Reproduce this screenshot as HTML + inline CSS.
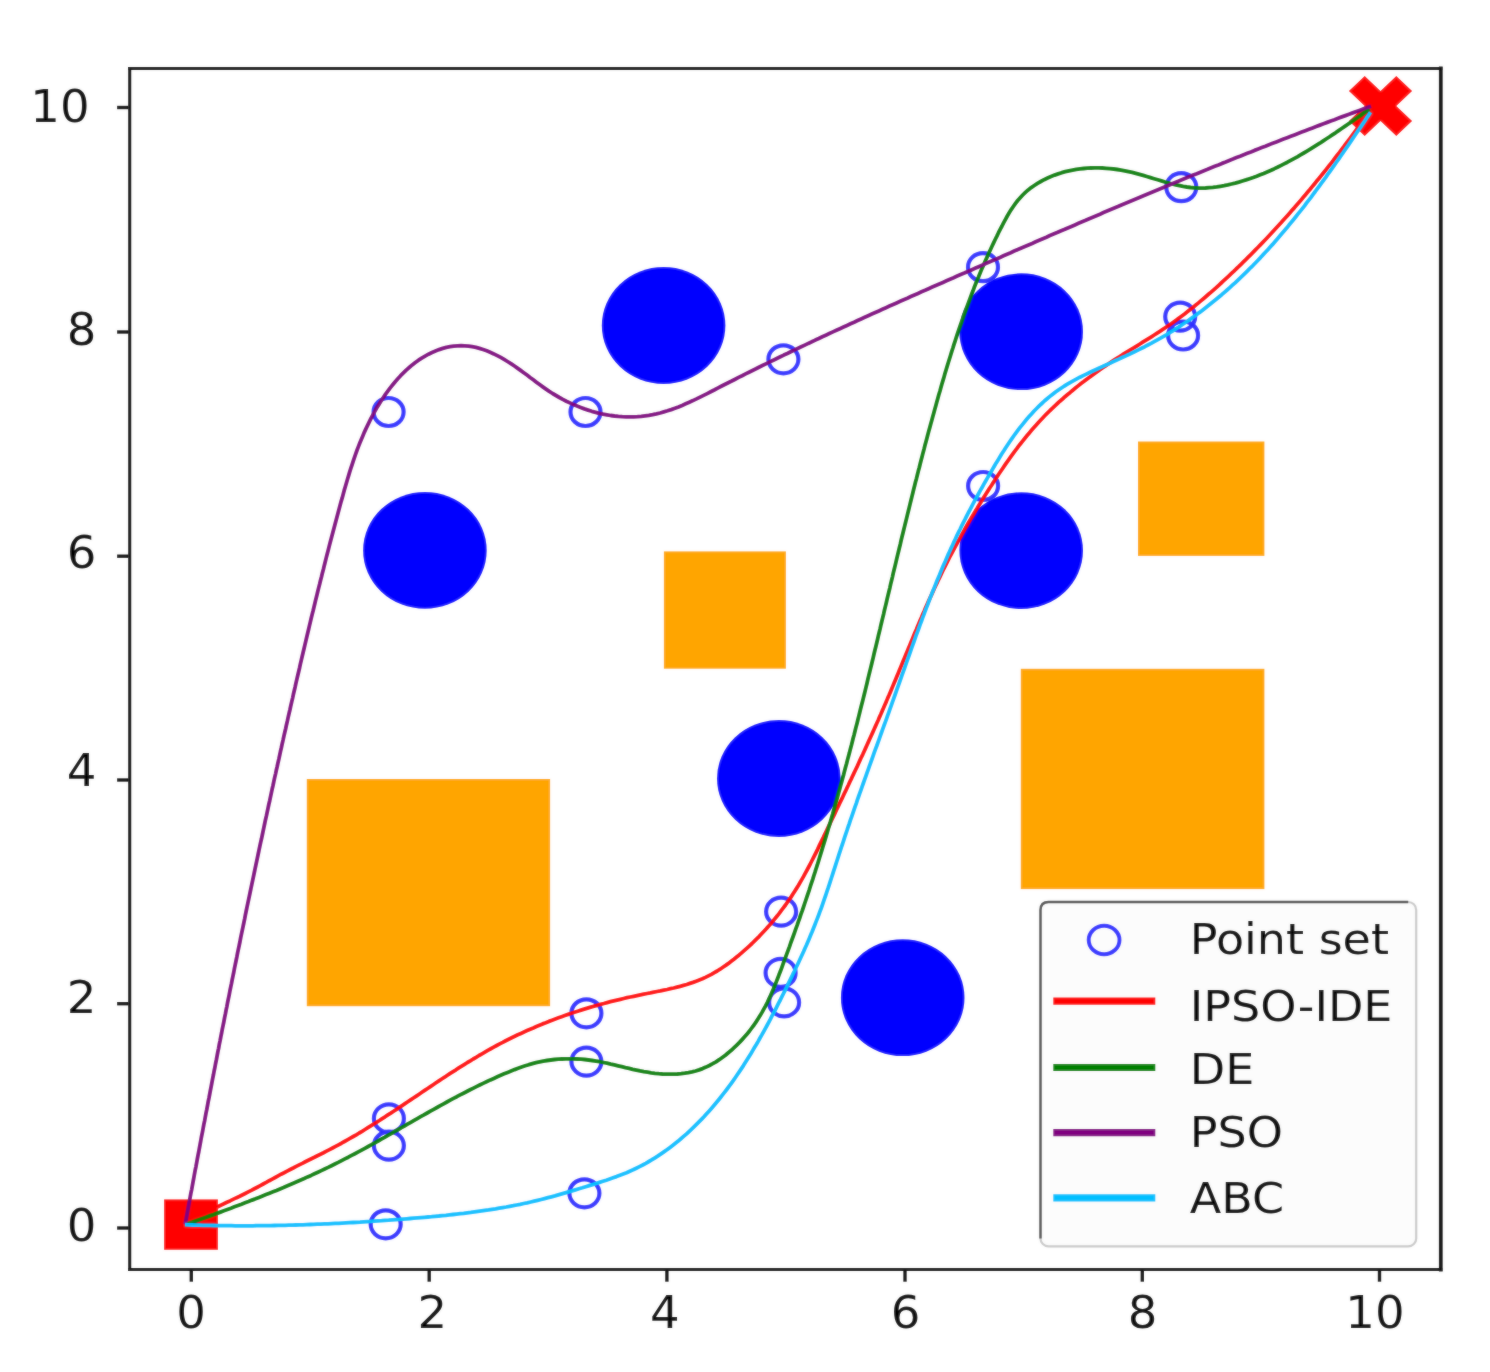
<!DOCTYPE html>
<html lang="en"><head><meta charset="utf-8"><title>Path planning comparison</title>
<style>html,body{margin:0;padding:0;background:#fff}body{width:1490px;height:1372px;overflow:hidden}svg{display:block}</style>
</head><body>
<svg width="1490" height="1372" viewBox="0 0 1490 1372">
<defs><filter id="soft" x="0" y="0" width="1490" height="1372" filterUnits="userSpaceOnUse"><feGaussianBlur stdDeviation="0.8"/></filter></defs>
<g id="chart">
<rect x="0" y="0" width="1490" height="1372" fill="#ffffff"/>
<g fill="#ffa500">
<rect x="306.8" y="779.0" width="243.3" height="227.2"/>
<rect x="663.9" y="551.4" width="122.0" height="117.3"/>
<rect x="1020.8" y="668.8" width="243.6" height="220.3"/>
<rect x="1138.0" y="441.5" width="126.4" height="114.4"/>
</g>
<g fill="#0000ff">
<ellipse cx="424.9" cy="550.4" rx="61.8" ry="58.4"/>
<ellipse cx="663.6" cy="325.5" rx="61.8" ry="58.4"/>
<ellipse cx="1021.2" cy="331.7" rx="61.8" ry="58.4"/>
<ellipse cx="1021.2" cy="550.6" rx="61.8" ry="58.4"/>
<ellipse cx="778.8" cy="778.5" rx="61.8" ry="58.4"/>
<ellipse cx="902.7" cy="997.7" rx="61.8" ry="58.4"/>
</g>
<rect x="164.1" y="1199.4" width="53.8" height="50.4" fill="#ff0000"/>
<polygon fill="#ff0000" points="1364.7,76.1 1380.5,91.1 1396.3,76.1 1412.1,91.1 1396.3,106.0 1412.1,121.0 1396.3,136.0 1380.5,121.0 1364.7,136.0 1348.9,121.0 1364.7,106.0 1348.9,91.1"/>
<g fill="none" stroke="#3030ff" stroke-width="4.2">
<ellipse cx="388.6" cy="412.0" rx="15.0" ry="14.0"/>
<ellipse cx="585.5" cy="412.0" rx="15.0" ry="14.0"/>
<ellipse cx="783.4" cy="359.3" rx="15.0" ry="14.0"/>
<ellipse cx="983.0" cy="267.2" rx="15.0" ry="14.0"/>
<ellipse cx="1181.3" cy="187.2" rx="15.0" ry="14.0"/>
<ellipse cx="983.1" cy="486.0" rx="15.0" ry="14.0"/>
<ellipse cx="1180.2" cy="316.6" rx="15.0" ry="14.0"/>
<ellipse cx="1183.1" cy="335.5" rx="15.0" ry="14.0"/>
<ellipse cx="388.9" cy="1118.4" rx="15.0" ry="14.0"/>
<ellipse cx="388.9" cy="1145.6" rx="15.0" ry="14.0"/>
<ellipse cx="385.7" cy="1224.3" rx="15.0" ry="14.0"/>
<ellipse cx="586.4" cy="1013.3" rx="15.0" ry="14.0"/>
<ellipse cx="586.4" cy="1061.6" rx="15.0" ry="14.0"/>
<ellipse cx="584.4" cy="1193.3" rx="15.0" ry="14.0"/>
<ellipse cx="781.1" cy="911.6" rx="15.0" ry="14.0"/>
<ellipse cx="780.6" cy="972.9" rx="15.0" ry="14.0"/>
<ellipse cx="784.1" cy="1002.4" rx="15.0" ry="14.0"/>
</g>
<g fill="none" stroke-width="3.8" stroke-linejoin="round" stroke-linecap="butt">
<polyline stroke="#ff0000" points="184.8,1224.0 187.7,1222.3 190.6,1220.6 193.6,1219.0 196.6,1217.3 199.6,1215.7 202.6,1214.2 205.6,1212.6 208.6,1211.1 211.6,1209.6 214.7,1208.2 217.7,1206.7 220.8,1205.2 223.9,1203.8 226.9,1202.3 230.0,1200.9 233.0,1199.4 236.1,1197.9 239.2,1196.5 242.2,1195.0 245.2,1193.5 248.3,1191.9 251.3,1190.4 254.3,1188.8 257.3,1187.2 260.3,1185.6 263.2,1184.0 266.2,1182.4 269.2,1180.7 272.2,1179.1 275.2,1177.5 278.1,1175.9 281.1,1174.2 284.1,1172.7 287.1,1171.1 290.2,1169.5 293.2,1168.0 296.2,1166.4 299.2,1164.9 302.3,1163.4 305.3,1161.8 308.3,1160.3 311.4,1158.8 314.4,1157.3 317.4,1155.7 320.5,1154.2 323.5,1152.7 326.5,1151.1 329.5,1149.6 332.6,1148.0 335.6,1146.4 338.5,1144.8 341.5,1143.2 344.5,1141.5 347.4,1139.9 350.4,1138.2 353.3,1136.5 356.3,1134.8 359.2,1133.0 362.1,1131.3 365.0,1129.5 367.9,1127.7 370.8,1125.9 373.6,1124.1 376.5,1122.3 379.4,1120.5 382.2,1118.6 385.1,1116.8 387.9,1114.9 390.8,1113.1 393.6,1111.2 396.5,1109.3 399.3,1107.4 402.1,1105.6 405.0,1103.7 407.8,1101.8 410.6,1099.9 413.4,1098.0 416.3,1096.1 419.1,1094.2 421.9,1092.3 424.7,1090.4 427.6,1088.5 430.4,1086.6 433.2,1084.7 436.0,1082.8 438.9,1080.9 441.7,1079.0 444.6,1077.2 447.4,1075.3 450.2,1073.4 453.1,1071.6 456.0,1069.8 458.8,1067.9 461.7,1066.1 464.6,1064.3 467.4,1062.5 470.3,1060.8 473.2,1059.0 476.1,1057.3 479.0,1055.5 482.0,1053.8 484.9,1052.1 487.8,1050.4 490.8,1048.8 493.7,1047.2 496.7,1045.5 499.7,1043.9 502.7,1042.4 505.7,1040.8 508.7,1039.3 511.7,1037.8 514.8,1036.3 517.8,1034.8 520.9,1033.4 524.0,1032.0 527.1,1030.6 530.2,1029.2 533.3,1027.9 536.4,1026.5 539.5,1025.2 542.6,1023.9 545.8,1022.7 548.9,1021.4 552.1,1020.2 555.3,1019.0 558.5,1017.8 561.6,1016.7 564.8,1015.5 568.1,1014.4 571.3,1013.3 574.5,1012.2 577.7,1011.2 581.0,1010.1 584.2,1009.1 587.5,1008.1 590.7,1007.2 594.0,1006.2 597.3,1005.3 600.5,1004.3 603.8,1003.5 607.1,1002.6 610.4,1001.7 613.7,1000.9 617.0,1000.1 620.4,999.3 623.7,998.5 627.0,997.7 630.3,997.0 633.7,996.3 637.0,995.6 640.4,994.9 643.7,994.2 647.1,993.5 650.4,992.9 653.8,992.2 657.1,991.5 660.4,990.9 663.8,990.2 667.1,989.5 670.4,988.7 673.7,988.0 677.0,987.1 680.2,986.3 683.5,985.4 686.7,984.5 689.9,983.4 693.0,982.4 696.2,981.2 699.3,980.0 702.4,978.8 705.4,977.4 708.4,975.9 711.4,974.4 714.3,972.7 717.2,971.0 720.1,969.2 722.9,967.3 725.7,965.4 728.5,963.4 731.2,961.3 733.9,959.2 736.6,957.0 739.2,954.9 741.9,952.6 744.4,950.4 747.0,948.1 749.5,945.8 752.0,943.5 754.4,941.1 756.9,938.7 759.3,936.3 761.6,933.8 764.0,931.3 766.3,928.8 768.5,926.2 770.8,923.7 773.0,921.1 775.1,918.4 777.3,915.8 779.4,913.1 781.4,910.4 783.5,907.7 785.5,905.0 787.4,902.2 789.4,899.4 791.3,896.6 793.1,893.8 794.9,890.9 796.7,888.1 798.5,885.2 800.2,882.3 801.9,879.4 803.6,876.4 805.2,873.4 806.8,870.5 808.4,867.5 810.0,864.5 811.5,861.5 813.1,858.4 814.6,855.4 816.1,852.3 817.6,849.3 819.0,846.2 820.5,843.2 822.0,840.1 823.5,837.1 824.9,834.0 826.4,831.0 827.9,827.9 829.4,824.8 830.8,821.8 832.3,818.7 833.8,815.7 835.2,812.6 836.7,809.5 838.2,806.5 839.6,803.4 841.1,800.3 842.6,797.3 844.0,794.2 845.5,791.2 846.9,788.1 848.4,785.0 849.8,781.9 851.3,778.9 852.7,775.8 854.2,772.7 855.6,769.7 857.1,766.6 858.5,763.5 859.9,760.4 861.3,757.3 862.8,754.3 864.2,751.2 865.6,748.1 867.0,745.0 868.4,741.9 869.8,738.8 871.2,735.7 872.6,732.6 874.0,729.5 875.4,726.4 876.8,723.3 878.2,720.2 879.5,717.1 880.9,714.0 882.2,710.9 883.6,707.8 884.9,704.7 886.3,701.6 887.6,698.4 889.0,695.3 890.3,692.2 891.6,689.1 892.9,685.9 894.2,682.8 895.5,679.7 896.8,676.5 898.1,673.4 899.4,670.3 900.7,667.1 902.0,664.0 903.3,660.8 904.6,657.7 905.9,654.5 907.2,651.4 908.5,648.3 909.8,645.1 911.1,642.0 912.4,638.9 913.7,635.7 915.0,632.6 916.4,629.5 917.7,626.3 919.0,623.2 920.3,620.1 921.7,617.0 923.0,613.8 924.4,610.7 925.7,607.6 927.1,604.5 928.5,601.4 929.9,598.3 931.3,595.2 932.7,592.1 934.1,589.0 935.5,586.0 937.0,582.9 938.4,579.8 939.9,576.8 941.4,573.7 942.8,570.7 944.4,567.6 945.9,564.6 947.4,561.6 949.0,558.5 950.5,555.5 952.1,552.5 953.7,549.5 955.3,546.5 956.9,543.5 958.5,540.6 960.2,537.6 961.8,534.6 963.5,531.6 965.1,528.7 966.8,525.7 968.5,522.8 970.2,519.9 971.9,516.9 973.7,514.0 975.4,511.1 977.2,508.2 978.9,505.3 980.7,502.4 982.5,499.5 984.3,496.6 986.1,493.7 987.9,490.9 989.7,488.0 991.6,485.2 993.4,482.3 995.3,479.5 997.1,476.6 999.0,473.8 1000.9,471.0 1002.8,468.2 1004.7,465.4 1006.6,462.6 1008.6,459.8 1010.5,457.1 1012.5,454.3 1014.5,451.6 1016.6,448.9 1018.6,446.2 1020.7,443.5 1022.8,440.8 1024.9,438.2 1027.1,435.5 1029.3,432.9 1031.5,430.3 1033.7,427.8 1036.0,425.2 1038.2,422.7 1040.5,420.2 1042.9,417.7 1045.2,415.3 1047.6,412.9 1050.0,410.5 1052.5,408.2 1054.9,405.8 1057.4,403.5 1059.9,401.2 1062.5,399.0 1065.0,396.7 1067.6,394.5 1070.2,392.4 1072.8,390.2 1075.4,388.1 1078.1,385.9 1080.7,383.8 1083.4,381.8 1086.1,379.7 1088.8,377.7 1091.6,375.7 1094.3,373.7 1097.1,371.7 1099.9,369.7 1102.7,367.8 1105.5,365.9 1108.3,364.0 1111.1,362.1 1114.0,360.2 1116.8,358.4 1119.7,356.6 1122.5,354.7 1125.4,352.9 1128.3,351.1 1131.2,349.3 1134.1,347.6 1137.0,345.8 1139.9,344.0 1142.7,342.2 1145.6,340.4 1148.5,338.6 1151.4,336.8 1154.2,335.0 1157.1,333.1 1159.9,331.3 1162.8,329.4 1165.6,327.5 1168.4,325.6 1171.2,323.7 1174.0,321.7 1176.7,319.8 1179.4,317.7 1182.2,315.7 1184.9,313.7 1187.6,311.6 1190.2,309.5 1192.9,307.4 1195.5,305.3 1198.2,303.1 1200.8,300.9 1203.4,298.7 1206.0,296.5 1208.5,294.3 1211.1,292.1 1213.7,289.8 1216.2,287.6 1218.7,285.3 1221.2,283.0 1223.7,280.7 1226.2,278.4 1228.7,276.1 1231.2,273.7 1233.7,271.4 1236.1,269.0 1238.6,266.7 1241.0,264.3 1243.4,261.9 1245.8,259.6 1248.2,257.2 1250.6,254.8 1253.0,252.4 1255.4,249.9 1257.8,247.5 1260.1,245.1 1262.5,242.6 1264.8,240.2 1267.2,237.7 1269.5,235.3 1271.8,232.8 1274.1,230.3 1276.4,227.8 1278.7,225.3 1281.0,222.8 1283.2,220.3 1285.5,217.8 1287.8,215.2 1290.0,212.7 1292.2,210.1 1294.5,207.6 1296.7,205.0 1298.9,202.4 1301.1,199.9 1303.3,197.3 1305.5,194.7 1307.7,192.1 1309.9,189.5 1312.0,186.9 1314.2,184.2 1316.3,181.6 1318.5,179.0 1320.6,176.3 1322.7,173.7 1324.9,171.1 1327.0,168.4 1329.1,165.7 1331.2,163.1 1333.3,160.4 1335.3,157.7 1337.4,155.0 1339.5,152.3 1341.5,149.6 1343.6,146.9 1345.6,144.2 1347.7,141.5 1349.7,138.8 1351.7,136.0 1353.7,133.3 1355.7,130.6 1357.7,127.8 1359.7,125.1 1361.7,122.3 1363.7,119.6 1365.7,116.8 1367.6,114.1 1369.6,111.3"/>
<polyline stroke="#008000" points="185.1,1224.8 188.6,1223.5 192.2,1222.3 195.7,1221.0 199.2,1219.7 202.7,1218.5 206.3,1217.2 209.8,1215.9 213.3,1214.7 216.8,1213.4 220.4,1212.1 223.9,1210.8 227.4,1209.5 230.9,1208.2 234.4,1206.8 238.0,1205.5 241.5,1204.2 245.0,1202.8 248.5,1201.5 252.0,1200.1 255.5,1198.8 259.0,1197.4 262.5,1196.0 266.0,1194.6 269.5,1193.2 273.0,1191.8 276.5,1190.4 280.0,1188.9 283.5,1187.5 286.9,1186.0 290.4,1184.5 293.9,1183.0 297.3,1181.5 300.8,1180.0 304.2,1178.5 307.6,1176.9 311.1,1175.4 314.5,1173.8 317.9,1172.2 321.3,1170.6 324.7,1169.0 328.1,1167.4 331.5,1165.7 334.9,1164.0 338.2,1162.4 341.6,1160.6 344.9,1158.9 348.3,1157.2 351.6,1155.4 354.9,1153.7 358.3,1151.9 361.6,1150.1 364.9,1148.3 368.2,1146.5 371.5,1144.7 374.8,1142.8 378.1,1141.0 381.3,1139.1 384.6,1137.3 387.9,1135.4 391.2,1133.6 394.5,1131.7 397.7,1129.8 401.0,1127.9 404.3,1126.1 407.5,1124.2 410.8,1122.3 414.1,1120.4 417.3,1118.6 420.6,1116.7 423.9,1114.9 427.2,1113.0 430.4,1111.1 433.7,1109.3 437.0,1107.5 440.3,1105.6 443.6,1103.8 446.9,1102.0 450.2,1100.2 453.5,1098.4 456.8,1096.7 460.1,1094.9 463.5,1093.2 466.8,1091.5 470.1,1089.8 473.5,1088.1 476.9,1086.4 480.2,1084.7 483.6,1083.1 487.0,1081.5 490.4,1079.9 493.8,1078.4 497.3,1076.8 500.7,1075.3 504.1,1073.8 507.6,1072.4 511.1,1071.0 514.6,1069.6 518.1,1068.3 521.6,1067.0 525.2,1065.8 528.8,1064.7 532.4,1063.7 536.0,1062.7 539.6,1061.9 543.3,1061.1 547.0,1060.5 550.8,1060.0 554.5,1059.5 558.3,1059.2 562.0,1059.0 565.8,1058.8 569.6,1058.8 573.4,1058.8 577.2,1059.0 581.0,1059.2 584.7,1059.5 588.5,1060.0 592.2,1060.5 596.0,1061.1 599.7,1061.7 603.4,1062.5 607.0,1063.2 610.7,1064.1 614.4,1064.9 618.1,1065.8 621.7,1066.7 625.4,1067.6 629.1,1068.4 632.7,1069.3 636.4,1070.1 640.1,1070.9 643.8,1071.6 647.5,1072.2 651.2,1072.8 654.9,1073.3 658.7,1073.7 662.4,1074.0 666.2,1074.2 669.9,1074.2 673.6,1074.2 677.4,1074.0 681.1,1073.7 684.8,1073.2 688.4,1072.6 692.0,1071.9 695.6,1071.0 699.1,1069.9 702.6,1068.6 706.0,1067.1 709.4,1065.5 712.7,1063.7 716.0,1061.8 719.2,1059.7 722.3,1057.5 725.4,1055.2 728.3,1052.7 731.3,1050.3 734.1,1047.7 736.8,1045.1 739.5,1042.4 742.1,1039.6 744.6,1036.8 747.1,1033.9 749.5,1031.0 751.7,1028.0 754.0,1025.0 756.1,1021.9 758.1,1018.8 760.1,1015.6 762.0,1012.4 763.8,1009.1 765.6,1005.8 767.3,1002.5 768.9,999.1 770.5,995.7 772.0,992.3 773.5,988.8 774.9,985.3 776.3,981.9 777.7,978.3 779.0,974.8 780.4,971.3 781.7,967.8 783.0,964.2 784.3,960.7 785.6,957.2 786.9,953.6 788.2,950.1 789.5,946.6 790.7,943.0 792.0,939.5 793.3,936.0 794.6,932.4 795.8,928.9 797.1,925.4 798.3,921.8 799.6,918.3 800.8,914.7 802.1,911.2 803.3,907.6 804.5,904.0 805.7,900.5 806.9,896.9 808.1,893.4 809.3,889.8 810.4,886.2 811.6,882.6 812.8,879.1 813.9,875.5 815.1,871.9 816.2,868.3 817.4,864.7 818.5,861.1 819.6,857.5 820.7,853.9 821.8,850.4 822.9,846.8 824.0,843.2 825.1,839.6 826.2,836.0 827.3,832.3 828.3,828.7 829.4,825.1 830.5,821.5 831.5,817.9 832.6,814.3 833.6,810.7 834.6,807.1 835.6,803.4 836.7,799.8 837.7,796.2 838.7,792.6 839.7,788.9 840.7,785.3 841.7,781.7 842.7,778.0 843.7,774.4 844.6,770.8 845.6,767.1 846.6,763.5 847.5,759.9 848.5,756.2 849.5,752.6 850.4,748.9 851.4,745.3 852.3,741.7 853.2,738.0 854.2,734.4 855.1,730.7 856.0,727.1 857.0,723.4 857.9,719.8 858.8,716.1 859.7,712.5 860.6,708.8 861.5,705.2 862.5,701.5 863.4,697.9 864.3,694.2 865.2,690.6 866.1,686.9 867.0,683.2 867.8,679.6 868.7,675.9 869.6,672.3 870.5,668.6 871.4,665.0 872.3,661.3 873.2,657.6 874.0,654.0 874.9,650.3 875.8,646.7 876.7,643.0 877.6,639.3 878.4,635.7 879.3,632.0 880.2,628.4 881.0,624.7 881.9,621.0 882.8,617.4 883.7,613.7 884.5,610.0 885.4,606.4 886.3,602.7 887.1,599.1 888.0,595.4 888.9,591.7 889.8,588.1 890.6,584.4 891.5,580.8 892.4,577.1 893.2,573.4 894.1,569.8 895.0,566.1 895.9,562.4 896.7,558.8 897.6,555.1 898.5,551.5 899.4,547.8 900.3,544.2 901.1,540.5 902.0,536.8 902.9,533.2 903.8,529.5 904.7,525.9 905.6,522.2 906.5,518.6 907.4,514.9 908.3,511.3 909.2,507.6 910.1,503.9 911.0,500.3 911.9,496.6 912.8,493.0 913.7,489.3 914.6,485.7 915.5,482.0 916.5,478.4 917.4,474.8 918.3,471.1 919.3,467.5 920.2,463.8 921.1,460.2 922.1,456.5 923.0,452.9 924.0,449.3 924.9,445.6 925.9,442.0 926.9,438.3 927.8,434.7 928.8,431.1 929.8,427.4 930.8,423.8 931.8,420.2 932.8,416.6 933.8,412.9 934.8,409.3 935.8,405.7 936.8,402.1 937.8,398.4 938.8,394.8 939.9,391.2 940.9,387.6 941.9,384.0 943.0,380.4 944.1,376.7 945.1,373.1 946.2,369.5 947.3,365.9 948.4,362.3 949.5,358.7 950.6,355.2 951.7,351.6 952.9,348.0 954.0,344.4 955.2,340.8 956.3,337.3 957.5,333.7 958.7,330.1 959.9,326.6 961.2,323.0 962.4,319.5 963.6,315.9 964.9,312.4 966.2,308.8 967.5,305.3 968.8,301.8 970.1,298.3 971.4,294.8 972.8,291.3 974.1,287.8 975.5,284.3 976.9,280.8 978.4,277.3 979.8,273.8 981.2,270.4 982.7,266.9 984.2,263.4 985.7,260.0 987.3,256.6 988.8,253.1 990.4,249.7 992.0,246.3 993.6,242.9 995.2,239.5 996.9,236.1 998.5,232.7 1000.2,229.3 1002.0,226.0 1003.7,222.6 1005.5,219.3 1007.3,216.0 1009.2,212.8 1011.2,209.6 1013.3,206.5 1015.5,203.4 1017.7,200.5 1020.2,197.7 1022.7,195.0 1025.4,192.4 1028.2,189.9 1031.2,187.6 1034.3,185.5 1037.5,183.4 1040.8,181.5 1044.1,179.7 1047.6,178.0 1051.0,176.5 1054.6,175.1 1058.1,173.9 1061.7,172.7 1065.3,171.7 1068.9,170.8 1072.6,170.1 1076.3,169.4 1080.0,168.9 1083.7,168.5 1087.4,168.2 1091.1,168.0 1094.8,167.9 1098.6,167.9 1102.3,168.0 1106.1,168.3 1109.8,168.6 1113.6,169.0 1117.3,169.5 1121.0,170.1 1124.8,170.8 1128.5,171.6 1132.2,172.4 1135.8,173.4 1139.5,174.4 1143.2,175.4 1146.8,176.5 1150.5,177.6 1154.1,178.7 1157.7,179.8 1161.4,180.9 1165.0,182.0 1168.6,183.0 1172.3,184.0 1175.9,184.9 1179.6,185.7 1183.2,186.4 1186.9,187.0 1190.6,187.5 1194.3,187.8 1198.0,188.0 1201.7,188.1 1205.5,188.0 1209.2,187.7 1212.9,187.4 1216.7,186.9 1220.4,186.3 1224.1,185.7 1227.8,184.9 1231.5,184.0 1235.2,183.1 1238.8,182.1 1242.4,181.0 1246.0,179.9 1249.6,178.7 1253.2,177.5 1256.7,176.2 1260.2,174.8 1263.7,173.4 1267.1,171.9 1270.6,170.4 1274.0,168.9 1277.4,167.3 1280.7,165.6 1284.1,163.9 1287.4,162.2 1290.7,160.4 1294.0,158.6 1297.3,156.8 1300.5,154.9 1303.8,153.0 1307.0,151.1 1310.2,149.2 1313.4,147.2 1316.6,145.2 1319.8,143.2 1322.9,141.1 1326.1,139.0 1329.2,137.0 1332.3,134.9 1335.5,132.8 1338.6,130.6 1341.7,128.5 1344.8,126.4 1347.9,124.2 1351.0,122.1 1354.1,119.9 1357.2,117.8 1360.3,115.6 1363.3,113.4 1366.4,111.3 1369.5,109.1"/>
<polyline stroke="#800080" points="185.2,1224.3 185.9,1220.5 186.6,1216.6 187.3,1212.8 188.0,1209.0 188.7,1205.1 189.4,1201.3 190.1,1197.5 190.8,1193.6 191.6,1189.8 192.3,1186.0 193.0,1182.1 193.7,1178.3 194.4,1174.5 195.1,1170.6 195.9,1166.8 196.6,1163.0 197.3,1159.1 198.0,1155.3 198.8,1151.5 199.5,1147.6 200.2,1143.8 200.9,1140.0 201.6,1136.2 202.4,1132.3 203.1,1128.5 203.8,1124.7 204.6,1120.9 205.3,1117.0 206.0,1113.2 206.8,1109.4 207.5,1105.6 208.2,1101.7 209.0,1097.9 209.7,1094.1 210.4,1090.3 211.2,1086.4 211.9,1082.6 212.6,1078.8 213.4,1075.0 214.1,1071.2 214.9,1067.3 215.6,1063.5 216.4,1059.7 217.1,1055.9 217.8,1052.1 218.6,1048.3 219.3,1044.4 220.1,1040.6 220.8,1036.8 221.6,1033.0 222.3,1029.2 223.1,1025.4 223.9,1021.5 224.6,1017.7 225.4,1013.9 226.1,1010.1 226.9,1006.3 227.6,1002.5 228.4,998.7 229.2,994.8 229.9,991.0 230.7,987.2 231.5,983.4 232.2,979.6 233.0,975.8 233.8,972.0 234.5,968.2 235.3,964.4 236.1,960.5 236.9,956.7 237.6,952.9 238.4,949.1 239.2,945.3 240.0,941.5 240.7,937.7 241.5,933.9 242.3,930.1 243.1,926.3 243.9,922.5 244.7,918.7 245.4,914.8 246.2,911.0 247.0,907.2 247.8,903.4 248.6,899.6 249.4,895.8 250.2,892.0 251.0,888.2 251.8,884.4 252.6,880.6 253.4,876.8 254.2,873.0 255.0,869.2 255.8,865.4 256.6,861.6 257.4,857.8 258.2,854.0 259.0,850.2 259.8,846.4 260.6,842.6 261.5,838.8 262.3,835.0 263.1,831.1 263.9,827.3 264.7,823.5 265.5,819.7 266.4,815.9 267.2,812.1 268.0,808.3 268.8,804.5 269.7,800.7 270.5,796.9 271.3,793.1 272.1,789.3 273.0,785.5 273.8,781.7 274.6,777.9 275.5,774.1 276.3,770.3 277.2,766.5 278.0,762.7 278.9,758.9 279.7,755.1 280.5,751.3 281.4,747.5 282.2,743.7 283.1,739.9 283.9,736.1 284.8,732.3 285.7,728.5 286.5,724.7 287.4,720.9 288.2,717.1 289.1,713.3 290.0,709.5 290.8,705.7 291.7,701.9 292.6,698.1 293.4,694.3 294.3,690.5 295.2,686.7 296.0,682.9 296.9,679.1 297.8,675.3 298.7,671.5 299.6,667.7 300.4,663.9 301.3,660.1 302.2,656.3 303.1,652.5 304.0,648.7 304.9,644.9 305.8,641.1 306.7,637.3 307.6,633.5 308.5,629.7 309.4,625.9 310.3,622.1 311.2,618.3 312.1,614.6 313.1,610.8 314.0,607.0 314.9,603.2 315.8,599.4 316.8,595.6 317.7,591.8 318.6,588.1 319.6,584.3 320.5,580.5 321.5,576.7 322.4,572.9 323.4,569.2 324.3,565.4 325.3,561.6 326.2,557.9 327.2,554.1 328.2,550.3 329.1,546.6 330.1,542.8 331.1,539.1 332.1,535.3 333.1,531.5 334.1,527.8 335.1,524.0 336.1,520.3 337.1,516.6 338.1,512.8 339.1,509.1 340.1,505.3 341.1,501.6 342.2,497.9 343.2,494.2 344.2,490.4 345.3,486.7 346.4,483.0 347.5,479.3 348.6,475.6 349.7,471.9 350.9,468.2 352.1,464.6 353.3,460.9 354.5,457.3 355.8,453.6 357.1,450.0 358.5,446.4 359.9,442.8 361.4,439.2 362.9,435.7 364.4,432.1 366.0,428.6 367.7,425.1 369.4,421.6 371.1,418.1 373.0,414.7 374.9,411.2 376.8,407.8 378.9,404.4 381.0,401.1 383.2,397.7 385.4,394.4 387.8,391.2 390.2,387.9 392.7,384.8 395.2,381.7 397.8,378.7 400.6,375.7 403.4,372.9 406.2,370.1 409.2,367.5 412.2,364.9 415.3,362.5 418.5,360.2 421.7,358.1 425.1,356.1 428.5,354.2 432.0,352.5 435.5,351.0 439.1,349.6 442.7,348.4 446.4,347.4 450.0,346.7 453.7,346.1 457.4,345.8 461.1,345.6 464.8,345.8 468.5,346.1 472.2,346.7 475.9,347.4 479.5,348.4 483.1,349.5 486.7,350.8 490.2,352.3 493.8,353.9 497.3,355.6 500.7,357.4 504.1,359.4 507.5,361.5 510.9,363.6 514.1,365.8 517.4,368.1 520.6,370.4 523.8,372.7 527.0,375.1 530.1,377.5 533.3,379.8 536.4,382.2 539.6,384.6 542.8,386.9 546.0,389.1 549.3,391.4 552.6,393.5 556.0,395.5 559.4,397.5 562.8,399.4 566.3,401.2 569.9,402.9 573.5,404.6 577.1,406.1 580.7,407.5 584.4,408.9 588.1,410.1 591.8,411.3 595.6,412.3 599.3,413.3 603.1,414.1 606.9,414.8 610.7,415.5 614.6,416.0 618.4,416.4 622.2,416.7 626.0,416.8 629.9,416.9 633.7,416.8 637.5,416.7 641.3,416.4 645.1,415.9 648.9,415.4 652.7,414.7 656.4,413.9 660.1,413.0 663.8,411.9 667.5,410.8 671.2,409.6 674.9,408.3 678.5,406.9 682.1,405.4 685.7,403.8 689.3,402.2 692.9,400.6 696.5,398.9 700.1,397.1 703.6,395.4 707.2,393.6 710.7,391.8 714.2,390.0 717.7,388.1 721.2,386.3 724.7,384.5 728.2,382.7 731.7,381.0 735.2,379.2 738.6,377.4 742.1,375.7 745.6,373.9 749.0,372.2 752.5,370.5 756.0,368.8 759.4,367.0 762.9,365.3 766.4,363.6 769.8,361.9 773.3,360.2 776.8,358.5 780.3,356.8 783.8,355.1 787.3,353.5 790.8,351.8 794.2,350.1 797.7,348.4 801.2,346.8 804.8,345.1 808.3,343.4 811.8,341.8 815.3,340.1 818.8,338.5 822.3,336.8 825.8,335.2 829.3,333.6 832.9,331.9 836.4,330.3 839.9,328.7 843.5,327.0 847.0,325.4 850.5,323.8 854.1,322.2 857.6,320.5 861.1,318.9 864.7,317.3 868.2,315.7 871.8,314.1 875.3,312.5 878.9,310.9 882.4,309.3 886.0,307.7 889.5,306.1 893.1,304.5 896.6,302.9 900.2,301.3 903.7,299.7 907.3,298.2 910.8,296.6 914.4,295.0 918.0,293.4 921.5,291.8 925.1,290.3 928.6,288.7 932.2,287.1 935.8,285.5 939.3,284.0 942.9,282.4 946.5,280.8 950.0,279.2 953.6,277.7 957.2,276.1 960.7,274.5 964.3,273.0 967.9,271.4 971.4,269.9 975.0,268.3 978.6,266.7 982.1,265.2 985.7,263.6 989.3,262.0 992.8,260.5 996.4,258.9 1000.0,257.4 1003.5,255.8 1007.1,254.2 1010.7,252.7 1014.2,251.1 1017.8,249.6 1021.4,248.0 1024.9,246.5 1028.5,244.9 1032.1,243.4 1035.7,241.8 1039.2,240.3 1042.8,238.7 1046.4,237.2 1049.9,235.6 1053.5,234.1 1057.1,232.6 1060.6,231.0 1064.2,229.5 1067.8,227.9 1071.4,226.4 1074.9,224.9 1078.5,223.3 1082.1,221.8 1085.7,220.3 1089.2,218.7 1092.8,217.2 1096.4,215.7 1100.0,214.2 1103.5,212.6 1107.1,211.1 1110.7,209.6 1114.3,208.1 1117.9,206.6 1121.4,205.0 1125.0,203.5 1128.6,202.0 1132.2,200.5 1135.8,199.0 1139.4,197.5 1142.9,196.0 1146.5,194.5 1150.1,193.0 1153.7,191.5 1157.3,190.0 1160.9,188.5 1164.5,187.0 1168.1,185.5 1171.7,184.0 1175.2,182.5 1178.8,181.1 1182.4,179.6 1186.0,178.1 1189.6,176.6 1193.2,175.1 1196.8,173.7 1200.4,172.2 1204.0,170.7 1207.6,169.3 1211.2,167.8 1214.8,166.3 1218.4,164.9 1222.0,163.4 1225.7,162.0 1229.3,160.5 1232.9,159.1 1236.5,157.6 1240.1,156.2 1243.7,154.7 1247.3,153.3 1250.9,151.9 1254.5,150.4 1258.2,149.0 1261.8,147.6 1265.4,146.2 1269.0,144.7 1272.7,143.3 1276.3,141.9 1279.9,140.5 1283.5,139.1 1287.2,137.7 1290.8,136.3 1294.4,134.9 1298.1,133.5 1301.7,132.1 1305.3,130.7 1309.0,129.3 1312.6,127.9 1316.2,126.5 1319.9,125.1 1323.5,123.8 1327.2,122.4 1330.8,121.0 1334.5,119.7 1338.1,118.3 1341.8,116.9 1345.4,115.6 1349.1,114.2 1352.7,112.9 1356.4,111.5 1360.0,110.2 1363.7,108.8 1367.4,107.5 1371.0,106.2"/>
<polyline stroke="#00bfff" points="184.9,1224.7 188.5,1224.9 192.1,1225.0 195.6,1225.1 199.2,1225.2 202.8,1225.3 206.4,1225.4 210.0,1225.4 213.6,1225.5 217.2,1225.6 220.7,1225.6 224.3,1225.7 227.9,1225.7 231.5,1225.7 235.1,1225.8 238.6,1225.8 242.2,1225.8 245.8,1225.8 249.4,1225.8 253.0,1225.8 256.5,1225.7 260.1,1225.7 263.7,1225.7 267.3,1225.6 270.8,1225.6 274.4,1225.5 278.0,1225.4 281.6,1225.4 285.1,1225.3 288.7,1225.2 292.3,1225.1 295.8,1225.0 299.4,1224.9 303.0,1224.8 306.6,1224.6 310.1,1224.5 313.7,1224.4 317.3,1224.2 320.8,1224.1 324.4,1223.9 328.0,1223.8 331.6,1223.6 335.1,1223.4 338.7,1223.3 342.3,1223.1 345.8,1222.9 349.4,1222.7 353.0,1222.5 356.6,1222.3 360.1,1222.1 363.7,1221.8 367.3,1221.6 370.8,1221.4 374.4,1221.1 378.0,1220.9 381.6,1220.7 385.1,1220.4 388.7,1220.2 392.3,1219.9 395.9,1219.6 399.4,1219.4 403.0,1219.1 406.6,1218.8 410.2,1218.5 413.7,1218.2 417.3,1217.9 420.9,1217.6 424.5,1217.3 428.0,1217.0 431.6,1216.7 435.2,1216.3 438.8,1216.0 442.3,1215.6 445.9,1215.3 449.5,1214.9 453.0,1214.5 456.6,1214.1 460.2,1213.7 463.7,1213.3 467.3,1212.8 470.8,1212.4 474.4,1211.9 478.0,1211.4 481.5,1210.9 485.0,1210.4 488.6,1209.9 492.1,1209.3 495.6,1208.8 499.2,1208.2 502.7,1207.6 506.2,1207.0 509.7,1206.3 513.2,1205.7 516.7,1205.0 520.2,1204.3 523.7,1203.5 527.2,1202.8 530.7,1202.0 534.2,1201.2 537.6,1200.4 541.1,1199.5 544.5,1198.6 548.0,1197.7 551.4,1196.8 554.9,1195.9 558.3,1194.9 561.7,1193.9 565.2,1192.9 568.6,1191.9 572.0,1190.9 575.4,1189.9 578.9,1188.8 582.3,1187.8 585.7,1186.7 589.2,1185.6 592.6,1184.6 596.0,1183.5 599.5,1182.4 602.9,1181.3 606.3,1180.2 609.7,1179.0 613.1,1177.8 616.5,1176.6 619.9,1175.3 623.2,1174.0 626.6,1172.7 629.8,1171.2 633.1,1169.8 636.3,1168.2 639.5,1166.6 642.7,1165.0 645.8,1163.3 648.9,1161.5 652.0,1159.7 655.0,1157.8 658.0,1155.9 661.0,1153.9 663.9,1151.9 666.9,1149.8 669.7,1147.7 672.6,1145.5 675.4,1143.3 678.2,1141.1 680.9,1138.8 683.6,1136.4 686.3,1134.1 689.0,1131.6 691.6,1129.2 694.2,1126.7 696.7,1124.2 699.2,1121.7 701.7,1119.1 704.2,1116.5 706.6,1113.8 709.0,1111.2 711.4,1108.5 713.7,1105.8 716.0,1103.1 718.3,1100.3 720.5,1097.5 722.7,1094.7 724.9,1091.9 727.1,1089.0 729.2,1086.2 731.3,1083.3 733.4,1080.4 735.4,1077.5 737.4,1074.5 739.4,1071.6 741.4,1068.6 743.4,1065.6 745.3,1062.6 747.2,1059.6 749.1,1056.5 751.0,1053.5 752.8,1050.4 754.6,1047.3 756.5,1044.2 758.3,1041.1 760.0,1038.0 761.8,1034.9 763.5,1031.8 765.3,1028.6 767.0,1025.5 768.7,1022.3 770.4,1019.1 772.0,1015.9 773.7,1012.8 775.4,1009.6 777.0,1006.4 778.6,1003.2 780.3,1000.0 781.9,996.7 783.5,993.5 785.1,990.3 786.7,987.1 788.2,983.9 789.8,980.7 791.4,977.4 792.9,974.2 794.5,971.0 796.0,967.7 797.6,964.5 799.1,961.3 800.6,958.0 802.1,954.8 803.6,951.5 805.0,948.2 806.5,945.0 807.9,941.7 809.3,938.4 810.7,935.1 812.1,931.8 813.4,928.5 814.7,925.2 816.0,921.9 817.3,918.6 818.6,915.2 819.8,911.9 821.1,908.5 822.3,905.1 823.4,901.8 824.6,898.4 825.8,895.0 826.9,891.6 828.1,888.2 829.2,884.8 830.3,881.4 831.4,878.0 832.5,874.6 833.6,871.2 834.7,867.8 835.8,864.4 836.9,861.0 838.0,857.6 839.1,854.2 840.2,850.8 841.3,847.4 842.5,844.0 843.6,840.6 844.7,837.2 845.8,833.8 847.0,830.4 848.1,827.0 849.3,823.6 850.4,820.2 851.6,816.8 852.8,813.4 853.9,810.1 855.1,806.7 856.3,803.3 857.4,799.9 858.6,796.5 859.8,793.2 861.0,789.8 862.2,786.4 863.4,783.0 864.6,779.7 865.8,776.3 867.0,772.9 868.2,769.6 869.4,766.2 870.6,762.8 871.8,759.5 873.0,756.1 874.2,752.7 875.4,749.4 876.7,746.0 877.9,742.6 879.1,739.3 880.3,735.9 881.5,732.5 882.7,729.2 883.9,725.8 885.2,722.4 886.4,719.1 887.6,715.7 888.8,712.3 890.0,708.9 891.2,705.6 892.4,702.2 893.6,698.8 894.8,695.5 896.0,692.1 897.2,688.7 898.4,685.3 899.6,682.0 900.8,678.6 902.0,675.2 903.2,671.8 904.4,668.5 905.6,665.1 906.8,661.7 908.0,658.3 909.2,655.0 910.4,651.6 911.6,648.2 912.8,644.9 914.0,641.5 915.2,638.1 916.4,634.7 917.7,631.4 918.9,628.0 920.1,624.7 921.4,621.3 922.6,617.9 923.9,614.6 925.1,611.2 926.4,607.9 927.7,604.6 928.9,601.2 930.2,597.9 931.5,594.6 932.8,591.2 934.2,587.9 935.5,584.6 936.8,581.3 938.2,578.0 939.6,574.7 940.9,571.4 942.3,568.1 943.7,564.8 945.2,561.5 946.6,558.2 948.0,554.9 949.5,551.7 951.0,548.4 952.5,545.2 954.0,541.9 955.5,538.7 957.0,535.4 958.6,532.2 960.2,529.0 961.7,525.8 963.3,522.6 965.0,519.4 966.6,516.2 968.2,513.0 969.9,509.8 971.6,506.6 973.2,503.5 974.9,500.3 976.7,497.2 978.4,494.0 980.1,490.9 981.9,487.8 983.6,484.6 985.4,481.5 987.2,478.4 989.0,475.3 990.8,472.2 992.6,469.1 994.4,466.0 996.2,462.9 998.1,459.9 1000.0,456.8 1001.8,453.8 1003.8,450.8 1005.7,447.8 1007.7,444.8 1009.7,441.8 1011.7,438.9 1013.7,436.0 1015.8,433.1 1018.0,430.2 1020.1,427.4 1022.4,424.6 1024.6,421.8 1026.9,419.0 1029.3,416.3 1031.7,413.7 1034.1,411.0 1036.6,408.5 1039.2,405.9 1041.8,403.5 1044.4,401.0 1047.1,398.7 1049.9,396.4 1052.7,394.2 1055.5,392.0 1058.4,390.0 1061.4,388.0 1064.4,386.0 1067.4,384.2 1070.5,382.3 1073.6,380.6 1076.8,378.9 1079.9,377.2 1083.1,375.6 1086.3,374.1 1089.6,372.5 1092.8,371.0 1096.1,369.5 1099.3,368.0 1102.6,366.6 1105.9,365.1 1109.1,363.6 1112.4,362.1 1115.7,360.6 1118.9,359.1 1122.2,357.6 1125.4,356.1 1128.7,354.6 1131.9,353.0 1135.1,351.5 1138.4,349.9 1141.6,348.3 1144.8,346.7 1147.9,345.0 1151.1,343.4 1154.2,341.7 1157.4,339.9 1160.5,338.2 1163.6,336.4 1166.7,334.6 1169.7,332.7 1172.8,330.8 1175.8,328.9 1178.8,327.0 1181.8,325.0 1184.7,323.0 1187.7,321.0 1190.6,318.9 1193.5,316.9 1196.4,314.8 1199.3,312.6 1202.2,310.5 1205.0,308.3 1207.8,306.1 1210.6,303.8 1213.4,301.6 1216.2,299.3 1218.9,297.0 1221.7,294.7 1224.4,292.3 1227.1,290.0 1229.8,287.6 1232.4,285.2 1235.1,282.8 1237.7,280.3 1240.3,277.9 1242.9,275.4 1245.5,272.9 1248.0,270.4 1250.5,267.8 1253.1,265.3 1255.6,262.7 1258.0,260.2 1260.5,257.6 1262.9,254.9 1265.4,252.3 1267.8,249.7 1270.2,247.0 1272.6,244.4 1274.9,241.7 1277.3,239.0 1279.6,236.3 1281.9,233.6 1284.3,230.8 1286.6,228.1 1288.8,225.3 1291.1,222.6 1293.4,219.8 1295.6,217.0 1297.8,214.2 1300.1,211.4 1302.3,208.6 1304.5,205.8 1306.6,202.9 1308.8,200.1 1311.0,197.3 1313.1,194.4 1315.3,191.5 1317.4,188.6 1319.5,185.8 1321.6,182.9 1323.8,180.0 1325.9,177.1 1327.9,174.2 1330.0,171.3 1332.1,168.3 1334.2,165.4 1336.2,162.5 1338.3,159.6 1340.3,156.6 1342.4,153.7 1344.4,150.7 1346.4,147.8 1348.5,144.8 1350.5,141.9 1352.5,138.9 1354.5,136.0 1356.5,133.0 1358.5,130.1 1360.6,127.1 1362.6,124.2 1364.6,121.2 1366.5,118.2 1368.5,115.3 1370.5,112.3"/>
</g>
<g stroke="#000" stroke-linecap="square">
<line x1="129.7" y1="68.5" x2="129.7" y2="1269.5" stroke-width="3.1"/>
<line x1="129.7" y1="68.5" x2="1440.8" y2="68.5" stroke-width="3.1"/>
<line x1="1440.8" y1="68.5" x2="1440.8" y2="1269.5" stroke-width="3.8"/>
<line x1="129.7" y1="1269.5" x2="1440.8" y2="1269.5" stroke-width="3.1"/>
</g>
<g stroke="#000" stroke-width="3.4">
<line x1="191.3" y1="1271.0" x2="191.3" y2="1281.7"/>
<line x1="429.2" y1="1271.0" x2="429.2" y2="1281.7"/>
<line x1="666.9" y1="1271.0" x2="666.9" y2="1281.7"/>
<line x1="905.0" y1="1271.0" x2="905.0" y2="1281.7"/>
<line x1="1142.3" y1="1271.0" x2="1142.3" y2="1281.7"/>
<line x1="1379.5" y1="1271.0" x2="1379.5" y2="1281.7"/>
<line x1="128.2" y1="1228.0" x2="117.1" y2="1228.0"/>
<line x1="128.2" y1="1003.7" x2="117.1" y2="1003.7"/>
<line x1="128.2" y1="780.0" x2="117.1" y2="780.0"/>
<line x1="128.2" y1="556.2" x2="117.1" y2="556.2"/>
<line x1="128.2" y1="332.0" x2="117.1" y2="332.0"/>
<line x1="128.2" y1="107.5" x2="117.1" y2="107.5"/>
</g>
<g font-family='"DejaVu Sans", "Liberation Sans", sans-serif' fill="#000">
<text transform="translate(191.1,1328.0) scale(1.06,1)" font-size="44.0" text-anchor="middle">0</text>
<text transform="translate(432.4,1328.0) scale(1.06,1)" font-size="44.0" text-anchor="middle">2</text>
<text transform="translate(664.9,1328.0) scale(1.06,1)" font-size="44.0" text-anchor="middle">4</text>
<text transform="translate(905.7,1328.0) scale(1.06,1)" font-size="44.0" text-anchor="middle">6</text>
<text transform="translate(1142.7,1328.0) scale(1.06,1)" font-size="44.0" text-anchor="middle">8</text>
<text transform="translate(1375.0,1328.0) scale(1.06,1)" font-size="44.0" text-anchor="middle">10</text>
<text transform="translate(96.4,1240.9) scale(1.06,1)" font-size="44.0" text-anchor="end">0</text>
<text transform="translate(96.4,1013.3) scale(1.06,1)" font-size="44.0" text-anchor="end">2</text>
<text transform="translate(96.4,785.7) scale(1.06,1)" font-size="44.0" text-anchor="end">4</text>
<text transform="translate(96.4,567.7) scale(1.06,1)" font-size="44.0" text-anchor="end">6</text>
<text transform="translate(96.4,345.1) scale(1.06,1)" font-size="44.0" text-anchor="end">8</text>
<text transform="translate(89.6,121.8) scale(1.06,1)" font-size="44.0" text-anchor="end">10</text>
</g>
<rect x="1040.5" y="902.0" width="375.7" height="344.4" rx="8" ry="8" fill="#fcfcfc" stroke="#c9c9c9" stroke-width="2.2"/>
<path d="M1040.5,1238.4 V910 Q1040.5,902 1048.5,902 H1408.2" fill="none" stroke="#4d4d4d" stroke-width="2.4"/>
<ellipse cx="1104.1" cy="940.0" rx="15.4" ry="14.2" fill="none" stroke="#3030ff" stroke-width="3.9"/>
<line x1="1053.3" y1="1001.2" x2="1155.3" y2="1001.2" stroke="#ff0000" stroke-width="7.2"/>
<line x1="1053.3" y1="1067.5" x2="1155.3" y2="1067.5" stroke="#008000" stroke-width="7.2"/>
<line x1="1053.3" y1="1132.7" x2="1155.3" y2="1132.7" stroke="#800080" stroke-width="7.2"/>
<line x1="1053.3" y1="1197.8" x2="1155.3" y2="1197.8" stroke="#00bfff" stroke-width="7.2"/>
<g font-family='"DejaVu Sans", "Liberation Sans", sans-serif' fill="#000">
<text transform="translate(1189.8,954.3) scale(1.08,1)" font-size="42.6" text-anchor="start">Point set</text>
<text transform="translate(1189.8,1021.4) scale(1.08,1)" font-size="42.6" text-anchor="start">IPSO-IDE</text>
<text transform="translate(1189.8,1084.3) scale(1.08,1)" font-size="42.6" text-anchor="start">DE</text>
<text transform="translate(1189.8,1147.0) scale(1.08,1)" font-size="42.6" text-anchor="start">PSO</text>
<text transform="translate(1189.8,1212.6) scale(1.08,1)" font-size="42.6" text-anchor="start">ABC</text>
</g>
</g>
<use href="#chart" opacity="0.45" filter="url(#soft)"/>
</svg>
</body></html>
